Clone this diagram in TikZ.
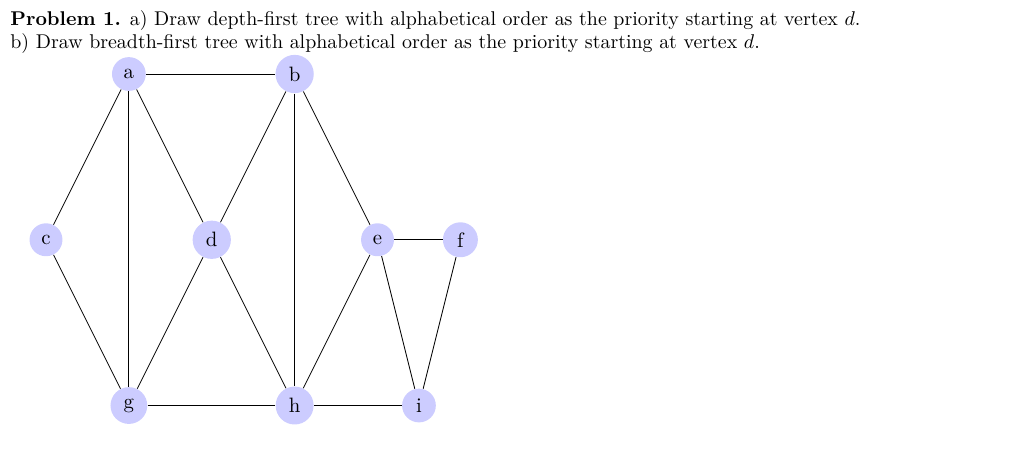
\documentclass[tikz,border=0pt]{standalone}
\usepackage{amsmath,amsthm,amssymb}
\usepackage{tikz}

\begin{document}
\begin{tikzpicture}[x=1.4cm,y=1.4cm,vertex/.style={circle,fill=blue!20}]
\useasboundingbox (-0.555,-0.743) rectangle (11.8,4.893);
\node[anchor=base west,scale=0.957,transform shape,inner sep=0pt] (prob1) at (-0.434,4.58) {\textbf{Problem 1.} a) Draw depth-first tree with alphabetical order as the priority starting at vertex $d$.};
\node[anchor=base west,scale=0.957,transform shape,inner sep=0pt] (prob2) at (-0.434,4.31) {b) Draw breadth-first tree with alphabetical order as the priority starting at vertex $d$.};
\node[vertex] (a) at (1,4) {a};
\node[vertex] (b) at (3,4) {b};
\node[vertex] (c) at (0,2) {c};
\node[vertex] (d) at (2,2) {d};
\node[vertex] (e) at (4,2) {e};
\node[vertex] (f) at (5,2) {f};
\node[vertex] (g) at (1,0) {g};
\node[vertex] (h) at (3,0) {h};
\node[vertex] (i) at (4.5,0) {i};
\draw (a)--(b);
\draw (a)--(c);
\draw (a)--(d);
\draw (a)--(g);
\draw (b)--(d);
\draw (b)--(h);
\draw (b)--(e);
\draw (c)--(g);
\draw (d)--(g);
\draw (d)--(h);
\draw (e)--(f);
\draw (e)--(h);
\draw (e)--(i);
\draw (f)--(i);
\draw (g)--(h);
\draw (h)--(i);
\end{tikzpicture}
\end{document}
